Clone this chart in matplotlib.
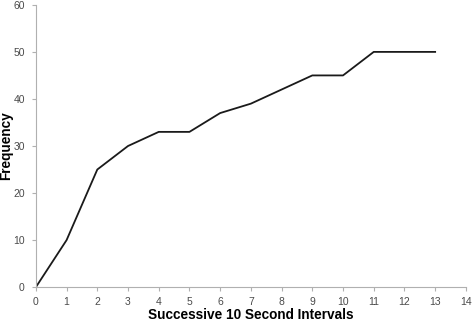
import matplotlib.pyplot as plt

intervals = [0, 1, 2, 3, 4, 5, 6, 7, 8, 9, 10, 11, 12, 13]
frequency = [0, 10, 25, 30, 33, 33, 37, 39, 42, 45, 45, 50, 50, 50]

plt.rcParams['font.family'] = ['Liberation Sans', 'DejaVu Sans']

fig = plt.figure(figsize=(4.72, 3.23), dpi=100)
ax = fig.add_axes([0.076, 0.111, 0.911, 0.874])

ax.plot(intervals, frequency, color='#1a1a1a', linewidth=1.3)

ax.set_xlim(0, 14)
ax.set_ylim(0, 60)
ax.set_xticks(range(0, 15))
ax.set_yticks(range(0, 61, 10))

for side in ['top', 'right']:
    ax.spines[side].set_visible(False)
for side in ['left', 'bottom']:
    ax.spines[side].set_color('#b0b0b0')
    ax.spines[side].set_linewidth(0.8)
ax.tick_params(colors='#b0b0b0', labelcolor='#4a4a4a', labelsize=7.5, length=3, width=0.8)
ax.tick_params(axis='y', pad=5)
ax.tick_params(axis='x', pad=4)

ax.set_xlabel('Successive 10 Second Intervals', fontsize=9.8, fontweight='bold')
ax.set_ylabel('Frequency', fontsize=9.8, fontweight='bold')
ax.xaxis.set_label_coords(0.5, -0.075)
ax.yaxis.set_label_coords(-0.053, 0.5)

fig.savefig('out.png', dpi=100)
